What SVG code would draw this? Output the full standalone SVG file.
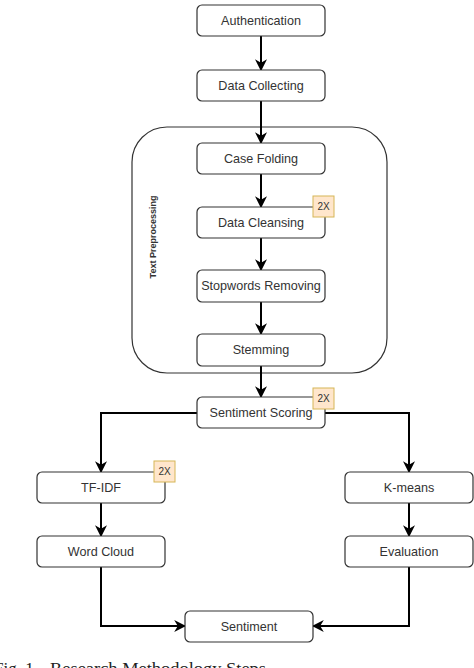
<svg xmlns="http://www.w3.org/2000/svg" width="474" height="668" viewBox="0 0 474 668">
<defs>
<style>
.box{fill:#fff;stroke:#333;stroke-width:1.2}
.lbl{font-family:"Liberation Sans",Arial,sans-serif;font-size:12.6px;fill:#333;text-anchor:middle;dominant-baseline:central}
.badge rect{fill:#ffe6cc;stroke:#d6b656;stroke-width:1}
.badge text{font-family:"Liberation Sans",Arial,sans-serif;font-size:10px;fill:#333;text-anchor:middle;dominant-baseline:central}
.conn{fill:none;stroke:#000;stroke-width:2;marker-end:url(#arr)}
</style>
<marker id="arr" viewBox="0 0 10 10" refX="9" refY="5" markerWidth="6" markerHeight="6" markerUnits="strokeWidth" orient="auto">
<path d="M0,0 L10,5 L0,10 L3,5 z" fill="#000"/>
</marker>
</defs>
<rect width="474" height="668" fill="#fff"/>
<g id="container">
<rect x="132" y="127" width="255" height="246" rx="35" fill="none" stroke="#333" stroke-width="1.2"/>
<text x="153" y="237" transform="rotate(-90 153 237)" font-family="Liberation Sans,Arial,sans-serif" font-size="9" font-weight="bold" fill="#333" text-anchor="middle" dominant-baseline="central">Text Preprocessing</text>
</g>
<g id="connectors">
<path class="conn" d="M261,36 V70"/>
<path class="conn" d="M261,101 V143"/>
<path class="conn" d="M261,174 V207"/>
<path class="conn" d="M261,238 V270"/>
<path class="conn" d="M261,302 V334"/>
<path class="conn" d="M261,366 V397"/>
<path class="conn" d="M197,413 H101 V472"/>
<path class="conn" d="M325,413 H409 V472"/>
<path class="conn" d="M101,503 V536"/>
<path class="conn" d="M409,503 V536"/>
<path class="conn" d="M101,567 V626 H185"/>
<path class="conn" d="M409,567 V626 H313"/>
</g>
<g id="authentication"><rect class="box" x="197" y="5" width="128" height="31" rx="5"/><text class="lbl" x="261" y="20.5">Authentication</text></g>
<g id="data-collecting"><rect class="box" x="197" y="70" width="128" height="31" rx="5"/><text class="lbl" x="261" y="85.5">Data Collecting</text></g>
<g id="case-folding"><rect class="box" x="197" y="143" width="128" height="31" rx="5"/><text class="lbl" x="261" y="158.5">Case Folding</text></g>
<g id="data-cleansing"><rect class="box" x="197" y="207" width="128" height="31" rx="5"/><text class="lbl" x="261" y="222.5">Data Cleansing</text>
<g class="badge"><rect x="313" y="196" width="21" height="21"/><text x="323.5" y="206.5">2X</text></g></g>
<g id="stopwords-removing"><rect class="box" x="197" y="270" width="128" height="32" rx="5"/><text class="lbl" x="261" y="286">Stopwords Removing</text></g>
<g id="stemming"><rect class="box" x="197" y="334" width="128" height="32" rx="5"/><text class="lbl" x="261" y="350">Stemming</text></g>
<g id="sentiment-scoring"><rect class="box" x="197" y="397" width="128" height="31" rx="5"/><text class="lbl" x="261" y="412.5">Sentiment Scoring</text>
<g class="badge"><rect x="313" y="388" width="21" height="21"/><text x="323.5" y="398.5">2X</text></g></g>
<g id="tf-idf"><rect class="box" x="37" y="472" width="128" height="31" rx="5"/><text class="lbl" x="101" y="487.5">TF-IDF</text>
<g class="badge"><rect x="154" y="461" width="21" height="21"/><text x="164.5" y="471.5">2X</text></g></g>
<g id="k-means"><rect class="box" x="345" y="472" width="128" height="31" rx="5"/><text class="lbl" x="409" y="487.5">K-means</text></g>
<g id="word-cloud"><rect class="box" x="37" y="536" width="128" height="31" rx="5"/><text class="lbl" x="101" y="551.5">Word Cloud</text></g>
<g id="evaluation"><rect class="box" x="345" y="536" width="128" height="31" rx="5"/><text class="lbl" x="409" y="551.5">Evaluation</text></g>
<g id="sentiment"><rect class="box" x="185" y="611" width="128" height="31" rx="5"/><text class="lbl" x="249" y="626.5">Sentiment</text></g>
<text y="674" font-family="Liberation Serif,Times New Roman,serif" font-size="17" fill="#222"><tspan x="-6">Fig. 1.</tspan><tspan x="50" textLength="216" lengthAdjust="spacingAndGlyphs">Research Methodology Steps</tspan></text>
</svg>
